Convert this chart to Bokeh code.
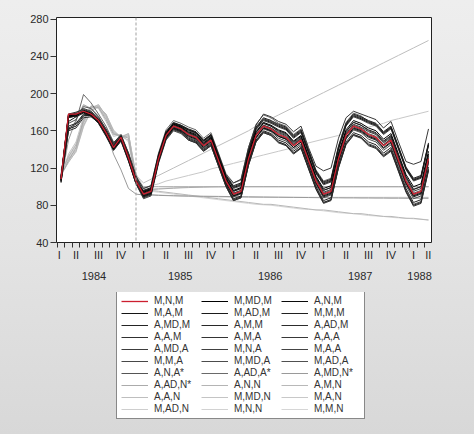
from bokeh.plotting import figure
from bokeh.layouts import column
from bokeh.models import Range1d, LinearAxis, FixedTicker, Span, Legend, LegendItem
from bokeh.embed import file_html
from bokeh.resources import INLINE

# ---------------- data (monthly, 1984M02 .. 1988M03) ----------------
START_YEAR = 1984
N_OBS = 50            # months 1..50 (month 0 = 1984M01)
FORECAST_START = 11   # 1984M12, vertical dashed line

quarter_labels = ["I", "II", "III", "IV"]
year_labels = ["1984", "1985", "1986", "1987", "1988"]
y_ticks = [40, 80, 120, 160, 200, 240, 280]

M_N_M = [108, 178, 178, 181, 178, 171, 158, 142, 153, 131, 106,
         92, 95, 130, 155, 165, 162, 156, 153, 144, 150, 128, 106,
         92, 95, 130, 155, 165, 162, 156, 153, 144, 150, 128, 106,
         92, 95, 130, 155, 165, 162, 156, 153, 144, 150, 128, 106,
         92, 95, 130]
M_MD_M = [107, 176, 177, 180, 177, 170, 157, 141, 152, 130, 105,
          94, 97, 132, 157, 167, 164, 159, 156, 147, 153, 131, 109,
          96, 99, 134, 159, 169, 166, 161, 158, 149, 155, 133, 111,
          98, 101, 136, 161, 171, 168, 163, 160, 151, 157, 135, 113,
          100, 103, 138]
A_N_M = [110, 175, 176, 182, 179, 172, 159, 143, 154, 132, 107,
         90, 93, 128, 153, 163, 160, 154, 151, 142, 148, 126, 104,
         90, 93, 128, 153, 163, 160, 154, 151, 142, 148, 126, 104,
         90, 93, 128, 153, 163, 160, 154, 151, 142, 148, 126, 104,
         90, 93, 128]
M_A_M = [106, 170, 175, 179, 176, 169, 156, 140, 151, 129, 104,
         95, 98, 133, 158, 168, 165, 161, 158, 149, 155, 133, 111,
         99, 102, 137, 162, 172, 169, 165, 162, 153, 159, 137, 115,
         103, 106, 141, 166, 176, 173, 169, 166, 157, 163, 141, 119,
         107, 110, 145]
M_AD_M = [108, 177, 178, 180, 178, 170, 157, 142, 152, 131, 105,
          93, 96, 131, 156, 166, 163, 158, 155, 146, 152, 130, 108,
          95, 98, 133, 158, 168, 165, 160, 157, 148, 154, 132, 110,
          96, 99, 134, 159, 169, 166, 161, 158, 149, 155, 133, 111,
          97, 100, 135]
M_M_M = [105, 162, 165, 176, 177, 170, 157, 140, 150, 129, 103,
         96, 99, 134, 159, 169, 166, 162, 159, 150, 156, 134, 112,
         101, 104, 139, 164, 174, 171, 167, 164, 155, 161, 139, 117,
         105, 108, 143, 168, 178, 175, 171, 168, 159, 165, 143, 121,
         109, 112, 147]
A_MD_M = [109, 174, 176, 181, 178, 172, 160, 145, 154, 134, 108,
          89, 92, 127, 152, 162, 159, 152, 149, 140, 146, 124, 102,
          87, 90, 125, 150, 160, 157, 150, 147, 138, 144, 122, 100,
          85, 88, 123, 148, 158, 155, 148, 145, 136, 142, 120, 98,
          83, 86, 121]
A_M_M = [107, 165, 168, 178, 176, 168, 154, 139, 149, 127, 103,
         89, 92, 127, 152, 162, 159, 151, 148, 139, 145, 123, 101,
         86, 89, 124, 149, 159, 156, 148, 145, 136, 142, 120, 98,
         83, 86, 121, 146, 156, 153, 145, 142, 133, 139, 117, 95,
         80, 83, 118]
A_AD_M = [108, 176, 176, 181, 178, 171, 158, 143, 153, 131, 106,
          91, 94, 129, 154, 164, 161, 155, 152, 143, 149, 127, 105,
          90, 93, 128, 153, 163, 160, 154, 151, 142, 148, 126, 104,
          89, 92, 127, 152, 162, 159, 153, 150, 141, 147, 125, 103,
          89, 92, 127]
A_A_M = [106, 160, 163, 174, 175, 169, 155, 140, 150, 128, 104,
         88, 91, 126, 151, 161, 158, 150, 147, 138, 144, 122, 100,
         85, 88, 123, 148, 158, 155, 147, 144, 135, 141, 119, 97,
         82, 85, 120, 145, 155, 152, 144, 141, 132, 138, 116, 94,
         79, 82, 117]
A_M_A = [110, 178, 180, 183, 180, 173, 160, 146, 155, 135, 110,
         95, 98, 133, 158, 168, 165, 161, 158, 149, 155, 133, 111,
         100, 103, 138, 163, 173, 170, 166, 163, 154, 160, 138, 116,
         104, 107, 142, 167, 177, 174, 170, 167, 158, 164, 142, 120,
         108, 111, 146]
A_A_A = [111, 177, 179, 184, 181, 174, 162, 147, 156, 136, 111,
         98, 101, 135, 159, 168, 166, 161, 158, 150, 156, 135, 112,
         104, 108, 142, 166, 178, 175, 170, 167, 159, 165, 142, 122,
         117, 120, 152, 174, 181, 178, 175, 172, 163, 170, 148, 127,
         124, 127, 162]
A_MD_A = [109, 177, 177, 181, 178, 171, 158, 143, 153, 132, 107,
          92, 95, 130, 155, 165, 162, 157, 154, 145, 151, 129, 107,
          93, 96, 131, 156, 166, 163, 158, 155, 146, 152, 130, 108,
          94, 97, 132, 157, 167, 164, 159, 156, 147, 153, 131, 109,
          95, 98, 133]
M_N_A = [108, 178, 178, 180, 177, 171, 157, 142, 152, 131, 106,
         91, 94, 131, 156, 164, 161, 155, 152, 145, 151, 127, 105,
         91, 94, 131, 156, 164, 161, 155, 152, 145, 151, 127, 105,
         91, 94, 131, 156, 164, 161, 155, 152, 145, 151, 127, 105,
         91, 94, 131]
M_A_A = [109, 176, 178, 182, 179, 172, 159, 144, 154, 133, 108,
         95, 98, 133, 158, 168, 165, 160, 157, 148, 154, 132, 110,
         98, 101, 136, 161, 171, 168, 164, 161, 152, 158, 136, 114,
         102, 105, 140, 165, 175, 172, 168, 165, 156, 162, 140, 118,
         106, 109, 144]
M_M_A = [104, 163, 167, 177, 176, 168, 155, 139, 149, 128, 103,
         87, 90, 125, 150, 160, 157, 150, 147, 138, 144, 122, 100,
         85, 88, 123, 148, 158, 155, 148, 145, 136, 142, 120, 98,
         83, 86, 121, 146, 156, 153, 146, 143, 134, 140, 118, 96,
         81, 84, 119]
M_MD_A = [108, 175, 177, 181, 178, 171, 158, 142, 152, 131, 106,
          94, 97, 132, 157, 167, 164, 158, 155, 146, 152, 130, 108,
          95, 98, 133, 158, 168, 165, 159, 156, 147, 153, 131, 109,
          96, 99, 134, 159, 169, 166, 160, 157, 148, 154, 132, 110,
          97, 100, 135]
M_AD_A = [107, 174, 176, 180, 177, 170, 157, 141, 151, 130, 105,
          90, 93, 128, 153, 163, 160, 153, 150, 141, 147, 125, 103,
          89, 92, 127, 152, 162, 159, 152, 149, 140, 146, 124, 102,
          88, 91, 126, 151, 161, 158, 151, 148, 139, 145, 123, 101,
          87, 90, 125]
A_N_A_s = [112, 168, 172, 186, 184, 175, 162, 147, 155, 136, 112,
           93, 96, 131, 156, 166, 163, 157, 154, 145, 152, 129, 107,
           93, 96, 131, 156, 166, 163, 157, 154, 145, 152, 129, 107,
           93, 96, 131, 156, 166, 163, 157, 154, 145, 152, 129, 107,
           93, 96, 131]
A_AD_A_s = [105, 160, 170, 199, 190, 178, 165, 148, 150, 133, 110,
            98, 101, 136, 161, 171, 168, 164, 161, 152, 158, 136, 114,
            104, 107, 142, 167, 177, 174, 168, 165, 156, 162, 140, 118,
            106, 109, 144, 169, 179, 176, 170, 167, 158, 164, 142, 120,
            107, 110, 145]
A_MD_N_s = [106, 150, 172, 188, 184, 176, 160, 135, 118, 98, 92,
            91, 91, 90.6, 90.4, 90.2, 90, 89.9, 89.8, 89.7, 89.6,
            89.5, 89.4, 89.3, 89.2, 89.1, 89, 88.9, 88.8, 88.7, 88.6,
            88.5, 88.4, 88.3, 88.2, 88.1, 88, 88, 87.9, 87.9, 87.8,
            87.8, 87.7, 87.7, 87.6, 87.6, 87.5, 87.5, 87.5, 87.5]
A_AD_N_s = [112, 128, 142, 172, 186, 185, 172, 156, 155, 152, 105,
            96, 96.8, 97.4, 97.9, 98.3, 98.7, 99, 99.3, 99.5, 99.7,
            99.8, 99.9, 99.9, 100, 100, 100, 100, 100, 100, 100,
            100, 100, 100, 100, 100, 100, 100, 100, 100, 100,
            100, 100, 100, 100, 100, 100, 100, 100, 100]
A_N_N = [115, 132, 145, 170, 184, 188, 176, 158, 153, 157, 110,
         100, 100, 100, 100, 100, 100, 100, 100, 100, 100,
         100, 100, 100, 100, 100, 100, 100, 100, 100, 100,
         100, 100, 100, 100, 100, 100, 100, 100, 100, 100,
         100, 100, 100, 100, 100, 100, 100, 100, 100]
A_M_N = [113, 126, 138, 165, 182, 186, 178, 160, 152, 155, 108,
         97, 96, 95, 94, 93, 92, 91, 90, 89, 88,
         87, 86, 85, 84, 83, 82, 81, 81, 80, 79,
         78, 77, 76, 75, 75, 74, 73, 72, 71, 71,
         70, 69, 68, 68, 67, 66, 66, 65, 64]
A_A_N = [118, 130, 140, 168, 185, 186, 174, 157, 154, 150, 112,
         104, 108, 112, 116, 120, 124, 128, 132, 136, 140,
         144, 148, 152, 156, 160, 165, 169, 173, 177, 181,
         185, 189, 193, 197, 201, 205, 209, 213, 217, 221,
         225, 229, 233, 237, 241, 245, 249, 253, 257]
M_MD_N = [110, 135, 148, 175, 187, 184, 170, 154, 156, 148, 104,
          92, 91.5, 91, 90.6, 90.3, 90, 89.8, 89.6, 89.4, 89.2,
          89, 88.9, 88.8, 88.7, 88.6, 88.5, 88.5, 88.5, 88.5, 88.5,
          88.5, 88.5, 88.5, 88.5, 88.5, 88.5, 88.5, 88.5, 88.5, 88.5,
          88.5, 88.5, 88.5, 88.5, 88.5, 88.5, 88.5, 88.5, 88.5]
M_A_N = [117, 128, 139, 166, 180, 187, 177, 161, 153, 156, 114,
         99, 101, 103, 106, 108, 110, 112, 114, 116, 119,
         121, 123, 125, 127, 129, 132, 134, 136, 138, 140,
         142, 145, 147, 149, 151, 153, 155, 158, 160, 162,
         164, 166, 168, 171, 173, 175, 177, 179, 181]
M_AD_N = [114, 131, 143, 169, 183, 185, 174, 158, 155, 153, 106,
          97, 97.5, 98, 98.4, 98.8, 99.1, 99.4, 99.6, 99.8, 99.9,
          100, 100, 100, 100, 100, 100, 100, 100, 100, 100,
          100, 100, 100, 100, 100, 100, 100, 100, 100, 100,
          100, 100, 100, 100, 100, 100, 100, 100, 100]
M_N_N = [116, 133, 146, 171, 185, 188, 175, 157, 154, 157, 109,
         100, 100, 100, 100, 100, 100, 100, 100, 100, 100,
         100, 100, 100, 100, 100, 100, 100, 100, 100, 100,
         100, 100, 100, 100, 100, 100, 100, 100, 100, 100,
         100, 100, 100, 100, 100, 100, 100, 100, 100]
M_M_N = [111, 127, 137, 164, 181, 186, 178, 159, 152, 154, 107,
         96, 95, 94, 93, 92, 91, 90, 89, 88, 87,
         86, 85, 84, 83, 82, 81, 80.5, 80, 79, 78,
         77, 76, 75.5, 75, 74, 73, 72, 71.5, 71, 70,
         69, 68.5, 68, 67, 66.5, 66, 65.5, 65, 64.5]

series_names = ["M,N,M", "M,MD,M", "A,N,M", "M,A,M", "M,AD,M", "M,M,M",
                "A,MD,M", "A,M,M", "A,AD,M", "A,A,M", "A,M,A", "A,A,A",
                "A,MD,A", "M,N,A", "M,A,A", "M,M,A", "M,MD,A", "M,AD,A",
                "A,N,A*", "A,AD,A*", "A,MD,N*", "A,AD,N*", "A,N,N", "A,M,N",
                "A,A,N", "M,MD,N", "M,A,N", "M,AD,N", "M,N,N", "M,M,N"]
series_values = [M_N_M, M_MD_M, A_N_M, M_A_M, M_AD_M, M_M_M,
                 A_MD_M, A_M_M, A_AD_M, A_A_M, A_M_A, A_A_A,
                 A_MD_A, M_N_A, M_A_A, M_M_A, M_MD_A, M_AD_A,
                 A_N_A_s, A_AD_A_s, A_MD_N_s, A_AD_N_s, A_N_N, A_M_N,
                 A_A_N, M_MD_N, M_A_N, M_AD_N, M_N_N, M_M_N]
for nm, v in zip(series_names, series_values):
    assert len(v) == N_OBS, (nm, len(v))

# ---------------- styles ----------------
series_colors = ["#cc1f2f", "#000000", "#0a0a0a", "#141414", "#1a1a1a", "#202020",
                 "#242424", "#282828", "#2c2c2c", "#303030", "#343434", "#383838",
                 "#3c3c3c", "#404040", "#444444", "#484848", "#4c4c4c", "#505050",
                 "#555555", "#6a6a6a", "#9a9a9a", "#ababab", "#b4b4b4", "#b8b8b8",
                 "#bebebe", "#c4c4c4", "#c8c8c8", "#cecece", "#d2d2d2", "#d6d6d6"]
FONT = "Liberation Sans"
TXT = "#2a2a2a"
BG = "#e4e4e4"
BG_GRADIENT = "linear-gradient(to bottom, #eeeeee 0%, #e4e4e4 55%, #d8d8d8 100%)"

x_start, x_end = 0.4, 50.4
months = list(range(1, N_OBS + 1))

TOP_H = 292
p = figure(width=474, height=TOP_H, output_backend="svg", toolbar_location=None,
           x_range=Range1d(x_start, x_end), y_range=Range1d(40, 281.7),
           x_axis_type=None, min_border_left=56, min_border_right=43,
           min_border_top=17, min_border_bottom=50)
p.background_fill_color = "white"
p.border_fill_color = BG
p.border_fill_alpha = 0
p.outline_line_color = "#222222"
p.outline_line_width = 1
p.grid.visible = False

# y axis
yax = p.yaxis[0]
yax.ticker = FixedTicker(ticks=y_ticks)
yax.axis_line_color = None
yax.major_tick_out = 6
yax.major_tick_in = 0
yax.minor_tick_line_color = None
yax.major_tick_line_color = "#333333"
yax.major_label_standoff = 2
yax.major_label_text_font = FONT
yax.major_label_text_font_size = "11px"
yax.major_label_text_color = TXT

# x axis: quarter labels + monthly ticks
q_pos, q_over = [], {}
for yi, yl in enumerate(year_labels):
    for qi, ql in enumerate(quarter_labels):
        t = yi * 12 + qi * 3
        if t > x_end + 1:
            continue
        pos = min(max(t, x_start + 0.36), x_end - 0.44)
        q_pos.append(pos)
        q_over[pos] = ql
month_bounds = [m - 0.5 for m in range(1, N_OBS + 1)]
qax = LinearAxis(ticker=FixedTicker(ticks=q_pos, minor_ticks=month_bounds),
                 major_label_overrides=q_over)
qax.axis_line_color = None
qax.major_tick_line_color = None
qax.major_tick_out = 0
qax.major_tick_in = 0
qax.minor_tick_line_color = "#333333"
qax.minor_tick_out = 5
qax.minor_tick_in = 0
qax.major_label_standoff = 1
qax.major_label_text_font = FONT
qax.major_label_text_font_size = "11px"
qax.major_label_text_color = TXT
p.add_layout(qax, "below")

y_pos, y_over = [], {}
for yi, yl in enumerate(year_labels):
    lo = max(yi * 12 - 0.5, x_start)
    hi = min(yi * 12 + 11.5, x_end)
    c = lo + (hi - lo) * 0.45
    y_pos.append(c)
    y_over[c] = yl
yax2 = LinearAxis(ticker=FixedTicker(ticks=y_pos, minor_ticks=[]),
                  major_label_overrides=y_over)
yax2.axis_line_color = None
yax2.major_tick_line_color = None
yax2.minor_tick_line_color = None
yax2.major_tick_out = 0
yax2.major_tick_in = 0
yax2.major_label_standoff = 8
yax2.major_label_text_font = FONT
yax2.major_label_text_font_size = "11px"
yax2.major_label_text_color = TXT
p.add_layout(yax2, "below")

# forecast start marker
p.add_layout(Span(location=FORECAST_START, dimension="height", line_color="#a0a0a0",
                  line_dash="3 2", line_width=1))

# lines: lightest first, red last
draw_order = list(range(len(series_values) - 1, 0, -1)) + [0]
for i in draw_order:
    p.line(months, series_values[i], line_color=series_colors[i],
           line_width=1.3 if i == 0 else 1)

# ---------------- legend strip under the chart ----------------
# (its frame is aligned with the chart's frame: x 56..431)
LEG_H = 434 - TOP_H
q = figure(width=474, height=LEG_H, output_backend="svg", toolbar_location=None,
           x_range=Range1d(0, 1), y_range=Range1d(0, 1),
           x_axis_location=None, y_axis_location=None,
           min_border_left=56, min_border_right=43,
           min_border_top=0, min_border_bottom=0)
q.background_fill_color = BG
q.background_fill_alpha = 0
q.border_fill_color = BG
q.border_fill_alpha = 0
q.outline_line_color = None
q.grid.visible = False

items = []
for i, nm in enumerate(series_names):
    # same series, drawn outside this strip's (0..1) view; used only as legend keys
    r = q.line(months, series_values[i], line_color=series_colors[i],
               line_width=1.3 if i == 0 else 1)
    items.append(LegendItem(label=nm, renderers=[r]))

legend = Legend(items=items, orientation="horizontal", ncols=3,
                location=(60, LEG_H - (419 - TOP_H)))
legend.label_text_font = FONT
legend.label_text_font_size = "10px"
legend.label_text_color = "#333333"
legend.glyph_width = 27
legend.glyph_height = 10
legend.label_height = 10
legend.label_width = 46
legend.label_standoff = 6
legend.spacing = 1
legend.padding = 4
legend.margin = 0
legend.border_line_color = "#111111"
legend.border_line_width = 1
legend.background_fill_color = "white"
legend.background_fill_alpha = 1
q.add_layout(legend, "center")

layout = column(p, q, spacing=0, width=474, height=434,
                styles={"background": BG_GRADIENT})
open("out.html", "w").write(file_html(layout, INLINE))
